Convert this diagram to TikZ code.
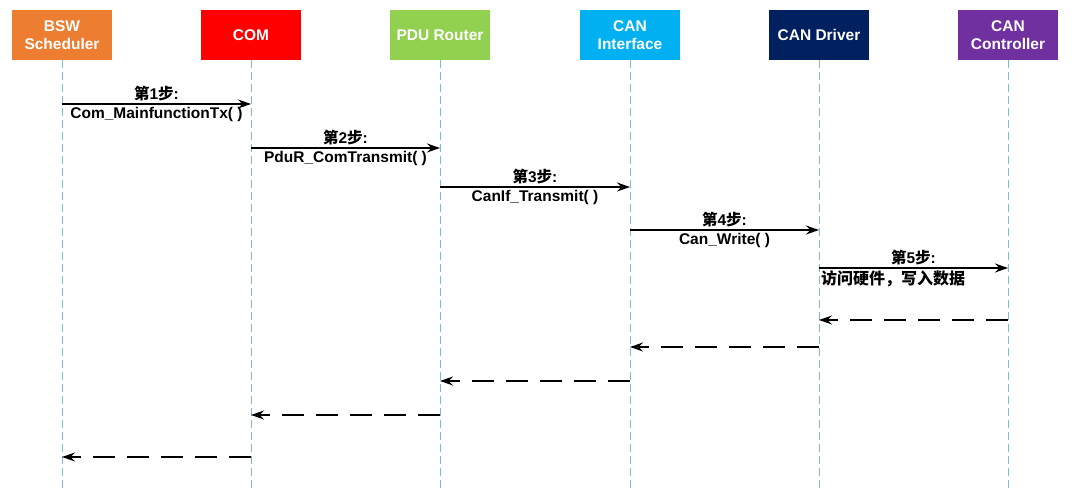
\documentclass[tikz,border=0pt]{standalone}
\usepackage{fontspec}
\setmainfont{Liberation Sans}
\newfontfamily\cjk{Noto Sans CJK SC}
\usetikzlibrary{arrows.meta,calc}
\definecolor{cOrange}{HTML}{ED7D31}
\definecolor{cRed}{HTML}{FF0000}
\definecolor{cGreen}{HTML}{92D050}
\definecolor{cCyan}{HTML}{00B0F0}
\definecolor{cNavy}{HTML}{002060}
\definecolor{cPurple}{HTML}{7030A0}
\definecolor{cLife}{HTML}{7FB8E0}
\begin{document}
\begin{tikzpicture}[x=1pt,y=-1pt,
  head/.style={minimum width=100pt, minimum height=50pt, text=white, font=\bfseries\fontsize{15.5}{18}\selectfont, align=center, inner sep=0pt},
  life/.style={cLife, dash pattern=on 8pt off 4pt, line width=1pt},
  call/.style={-{Stealth[length=13pt,width=9pt]}, line width=1.6pt},
  ret/.style={-{Stealth[length=13pt,width=9pt]}, line width=1.6pt, dash pattern=on 22pt off 12pt},
  lbl/.style={font=\bfseries\fontsize{15.5}{18}\selectfont, inner sep=3pt}]
\useasboundingbox (0,0) rectangle (1080,500);
\fill[white] (0,0) rectangle (1080,500);
\foreach \n/\x/\c/\t in {a/62/cOrange/{BSW\\Scheduler}, b/251/cRed/COM, c/440/cGreen/PDU Router, d/630/cCyan/{CAN\\Interface}, e/819/cNavy/CAN Driver, f/1008/cPurple/{CAN\\Controller}}{
  \node[head, fill=\c] (h\n) at (\x,35) {\t};
  \coordinate (t\n) at (\x,490);
  \draw[life] (h\n.south) -- (t\n);
}
% calls
\foreach \s/\d/\y/\k/\m in {a/b/104/1/{Com\_MainfunctionTx( )}, b/c/148/2/{PduR\_ComTransmit( )}, c/d/187/3/{CanIf\_Transmit( )}, d/e/230/4/{Can\_Write( )}}{
  \coordinate (s\k) at (h\s.center |- 0,\y);
  \coordinate (d\k) at (h\d.center |- 0,\y);
  \draw[call] (s\k) -- (d\k);
  \node[lbl, above] (u\k) at ($ (s\k)!0.5!(d\k) $) {{\cjk 第}\k{\cjk 步}:};
  \node[lbl, below] (v\k) at ($ (s\k)!0.5!(d\k) $) {\m};
}
\coordinate (s5) at (819,268);
\coordinate (d5) at (1008,268);
\draw[call] (s5) -- (d5);
\node[lbl, above] (u5) at ($ (s5)!0.5!(d5) $) {{\cjk 第}5{\cjk 步}:};
\node[lbl, below right, inner sep=2pt, font=\cjk\bfseries\fontsize{16}{18}\selectfont] (v5) at (s5) {访问硬件，写入数据};
% returns
\foreach \s/\d/\y in {f/e/320, e/d/347, d/c/381, c/b/415, b/a/457}{
  \coordinate (rs\s) at (h\s.center |- 0,\y);
  \coordinate (rd\s) at (h\d.center |- 0,\y);
  \draw[ret] (rs\s) -- (rd\s);
}
\end{tikzpicture}
\end{document}
